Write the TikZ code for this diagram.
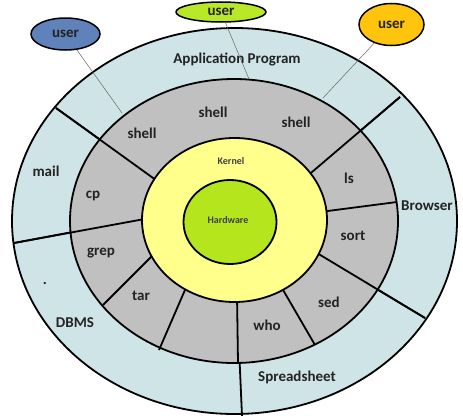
\documentclass[tikz,border=0pt]{standalone}
\usepackage{fontspec}
\setmainfont{Carlito}
\definecolor{ringblue}{RGB}{207,228,230}
\definecolor{ringgray}{RGB}{192,192,192}
\definecolor{kernyel}{RGB}{255,255,140}
\definecolor{hwgreen}{RGB}{181,230,29}
\definecolor{userblue}{RGB}{96,130,186}
\definecolor{userlime}{RGB}{185,232,40}
\definecolor{userorange}{RGB}{255,196,14}
\definecolor{txt}{RGB}{35,35,35}
\tikzset{
  ring/.style={draw=black,line width=1.8pt},
  divider/.style={draw=black,line width=1.8pt},
  userlink/.style={draw=gray!80!black,line width=0.5pt},
  lbl/.style={font=\fontsize{15}{17}\selectfont\bfseries,text=txt,inner sep=0pt},
  small/.style={font=\fontsize{10}{12}\selectfont\bfseries,text=black!75,inner sep=0pt},
  userbox/.style={ellipse,draw=black,line width=1.5pt,inner sep=0pt,font=\fontsize{15}{17}\selectfont\bfseries,text=txt}
}
\usetikzlibrary{shapes.geometric}
\begin{document}
\begin{tikzpicture}[x=1pt,y=-1pt]
\useasboundingbox (0,0) rectangle (463,415);
\fill[white] (0,0) rectangle (463,415);
% outer ring
\filldraw[ring,fill=ringblue] (234.5,221) ellipse [x radius=222.5pt, y radius=193pt];
% outer ring dividers
\draw[divider] (56,108) -- (152,177);
\draw[divider] (400,97) -- (312,172);
\draw[divider] (14,243) -- (142,219);
\draw[divider] (425,318) -- (320,255);
\draw[divider] (242,416) -- (237,302);
% gray ring
\fill[ringgray] (234,221) ellipse [x radius=164pt, y radius=142pt];
\draw[divider] (56,108) -- (160,183);
\draw[divider] (400,97) -- (305,178);
\draw[divider] (14,243) -- (150,218);
\draw[divider] (425,318) -- (312,250);
\draw[divider] (238,363) -- (237,295);
\draw[divider] (397,202) -- (320,212);
\draw[divider] (103,305) -- (155,253);
\draw[divider] (159,350) -- (188,283);
\draw[divider] (315,345) -- (279,283);
\draw[ring] (234,221) ellipse [x radius=164pt, y radius=142pt];
% kernel
\filldraw[ring,fill=kernyel] (234.5,220) ellipse [x radius=92.5pt, y radius=82pt];
% hardware
\filldraw[ring,fill=hwgreen] (230,222) ellipse [x radius=46.5pt, y radius=42pt];
% labels
\node[small] (kernel) at (231,161) {Kernel};
\node[small] (hardware) at (228,220) {Hardware};
\node[lbl] (app) at (237,59) {Application Program};
\node[lbl] (sh1) at (142,133) {shell};
\node[lbl] (sh2) at (213,112) {shell};
\node[lbl] (sh3) at (296,122) {shell};
\node[lbl] (mail) at (46,171) {mail};
\node[lbl] (cp) at (93,196) {cp};
\node[lbl] (ls) at (349,178) {ls};
\node[lbl] (browser) at (427,206) {Browser};
\node[lbl] (sort) at (353,236) {sort};
\node[lbl] (grep) at (101,253) {grep};
\node[lbl] (dot) at (45,283) {.};
\node[lbl] (tar) at (141,296) {tar};
\node[lbl] (dbms) at (75,323) {DBMS};
\node[lbl] (sed) at (329,302) {sed};
\node[lbl] (who) at (267,325) {who};
\node[lbl] (spread) at (297,377) {Spreadsheet};
% users
\node[userbox,fill=userblue,minimum width=69pt,minimum height=32pt] (u1) at (65.5,34) {user};
\node[userbox,fill=userlime,minimum width=90pt,minimum height=20pt] (u2) at (221,12) {user};
\node[userbox,fill=userorange,minimum width=65pt,minimum height=42pt] (u3) at (391.5,24.5) {user};
\coordinate (e1) at (122,113);
\coordinate (e2) at (249,79);
\coordinate (e3) at (323,98);
\draw[userlink] (u1) -- (e1);
\draw[userlink] (u2) -- (e2);
\draw[userlink] (u3) -- (e3);
\end{tikzpicture}
\end{document}
